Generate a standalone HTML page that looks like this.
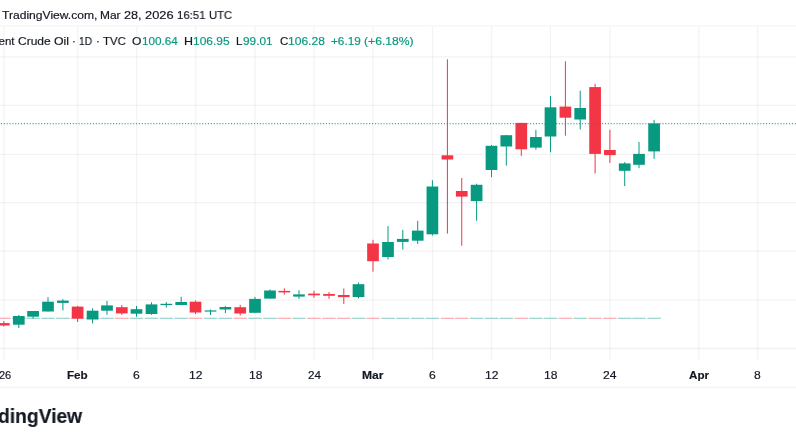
<!DOCTYPE html>
<html><head><meta charset="utf-8"><style>
html,body{margin:0;padding:0;background:#fff;}
body{width:796px;height:445px;overflow:hidden;position:relative;font-family:"Liberation Sans",sans-serif;color:#131722;}
svg{position:absolute;left:0;top:0;}
.tk{position:absolute;white-space:pre;transform-origin:0 0;will-change:transform;-webkit-text-stroke:0.18px currentColor;}
</style></head><body>
<svg width="796" height="445" viewBox="0 0 796 445">
<line x1="0" y1="56.94" x2="796" y2="56.94" stroke="#000" stroke-opacity="0.048" stroke-width="1.3"/>
<line x1="0" y1="105.39" x2="796" y2="105.39" stroke="#000" stroke-opacity="0.048" stroke-width="1.3"/>
<line x1="0" y1="154.39" x2="796" y2="154.39" stroke="#000" stroke-opacity="0.048" stroke-width="1.3"/>
<line x1="0" y1="202.64" x2="796" y2="202.64" stroke="#000" stroke-opacity="0.048" stroke-width="1.3"/>
<line x1="0" y1="251.11" x2="796" y2="251.11" stroke="#000" stroke-opacity="0.048" stroke-width="1.3"/>
<line x1="0" y1="300.12" x2="796" y2="300.12" stroke="#000" stroke-opacity="0.048" stroke-width="1.3"/>
<line x1="0" y1="348.50" x2="796" y2="348.50" stroke="#000" stroke-opacity="0.048" stroke-width="1.3"/>
<line x1="0" y1="25.85" x2="796" y2="25.85" stroke="#000" stroke-opacity="0.04" stroke-width="1.3"/>
<line x1="4.00" y1="26.5" x2="4.00" y2="360.4" stroke="#000" stroke-opacity="0.048" stroke-width="1.3"/>
<line x1="77.77" y1="26.5" x2="77.77" y2="360.4" stroke="#000" stroke-opacity="0.048" stroke-width="1.3"/>
<line x1="136.68" y1="26.5" x2="136.68" y2="360.4" stroke="#000" stroke-opacity="0.048" stroke-width="1.3"/>
<line x1="195.71" y1="26.5" x2="195.71" y2="360.4" stroke="#000" stroke-opacity="0.048" stroke-width="1.3"/>
<line x1="255.06" y1="26.5" x2="255.06" y2="360.4" stroke="#000" stroke-opacity="0.048" stroke-width="1.3"/>
<line x1="313.99" y1="26.5" x2="313.99" y2="360.4" stroke="#000" stroke-opacity="0.048" stroke-width="1.3"/>
<line x1="373.06" y1="26.5" x2="373.06" y2="360.4" stroke="#000" stroke-opacity="0.048" stroke-width="1.3"/>
<line x1="432.50" y1="26.5" x2="432.50" y2="360.4" stroke="#000" stroke-opacity="0.048" stroke-width="1.3"/>
<line x1="491.59" y1="26.5" x2="491.59" y2="360.4" stroke="#000" stroke-opacity="0.048" stroke-width="1.3"/>
<line x1="550.40" y1="26.5" x2="550.40" y2="360.4" stroke="#000" stroke-opacity="0.048" stroke-width="1.3"/>
<line x1="609.97" y1="26.5" x2="609.97" y2="360.4" stroke="#000" stroke-opacity="0.048" stroke-width="1.3"/>
<line x1="698.78" y1="26.5" x2="698.78" y2="360.4" stroke="#000" stroke-opacity="0.048" stroke-width="1.3"/>
<line x1="757.70" y1="26.5" x2="757.70" y2="360.4" stroke="#000" stroke-opacity="0.048" stroke-width="1.3"/>
<line x1="0" y1="387.5" x2="796" y2="387.5" stroke="#000" stroke-opacity="0.04" stroke-width="1.3"/>
<rect x="-2.95" y="317.70" width="13.50" height="1.2" fill="#F23645" fill-opacity="0.42"/>
<rect x="12.05" y="317.70" width="13.50" height="1.2" fill="#089981" fill-opacity="0.42"/>
<rect x="26.35" y="317.70" width="13.50" height="1.2" fill="#089981" fill-opacity="0.42"/>
<rect x="41.25" y="317.70" width="13.50" height="1.2" fill="#089981" fill-opacity="0.42"/>
<rect x="56.15" y="317.70" width="13.50" height="1.2" fill="#089981" fill-opacity="0.42"/>
<rect x="70.85" y="317.70" width="13.50" height="1.2" fill="#F23645" fill-opacity="0.42"/>
<rect x="85.85" y="317.70" width="13.50" height="1.2" fill="#089981" fill-opacity="0.42"/>
<rect x="100.25" y="317.70" width="13.50" height="1.2" fill="#089981" fill-opacity="0.42"/>
<rect x="115.05" y="317.70" width="13.50" height="1.2" fill="#F23645" fill-opacity="0.42"/>
<rect x="129.75" y="317.70" width="13.50" height="1.2" fill="#089981" fill-opacity="0.42"/>
<rect x="144.75" y="317.70" width="13.50" height="1.2" fill="#089981" fill-opacity="0.42"/>
<rect x="159.55" y="317.70" width="13.50" height="1.2" fill="#089981" fill-opacity="0.42"/>
<rect x="174.45" y="317.70" width="13.50" height="1.2" fill="#089981" fill-opacity="0.42"/>
<rect x="188.75" y="317.70" width="13.50" height="1.2" fill="#F23645" fill-opacity="0.42"/>
<rect x="203.75" y="317.70" width="13.50" height="1.2" fill="#089981" fill-opacity="0.42"/>
<rect x="218.65" y="317.70" width="13.50" height="1.2" fill="#089981" fill-opacity="0.42"/>
<rect x="233.45" y="317.70" width="13.50" height="1.2" fill="#F23645" fill-opacity="0.42"/>
<rect x="248.25" y="317.70" width="13.50" height="1.2" fill="#089981" fill-opacity="0.42"/>
<rect x="263.25" y="317.70" width="13.50" height="1.2" fill="#089981" fill-opacity="0.42"/>
<rect x="277.55" y="317.70" width="13.50" height="1.2" fill="#F23645" fill-opacity="0.42"/>
<rect x="292.25" y="317.70" width="13.50" height="1.2" fill="#089981" fill-opacity="0.42"/>
<rect x="307.25" y="317.70" width="13.50" height="1.2" fill="#F23645" fill-opacity="0.42"/>
<rect x="322.25" y="317.70" width="13.50" height="1.2" fill="#F23645" fill-opacity="0.42"/>
<rect x="337.05" y="317.70" width="13.50" height="1.2" fill="#F23645" fill-opacity="0.42"/>
<rect x="351.75" y="317.70" width="13.50" height="1.2" fill="#089981" fill-opacity="0.42"/>
<rect x="366.25" y="317.70" width="13.50" height="1.2" fill="#F23645" fill-opacity="0.42"/>
<rect x="381.25" y="317.70" width="13.50" height="1.2" fill="#089981" fill-opacity="0.42"/>
<rect x="396.05" y="317.70" width="13.50" height="1.2" fill="#089981" fill-opacity="0.42"/>
<rect x="410.95" y="317.70" width="13.50" height="1.2" fill="#089981" fill-opacity="0.42"/>
<rect x="425.65" y="317.70" width="13.50" height="1.2" fill="#089981" fill-opacity="0.42"/>
<rect x="440.65" y="317.70" width="13.50" height="1.2" fill="#F23645" fill-opacity="0.42"/>
<rect x="455.00" y="317.70" width="13.50" height="1.2" fill="#F23645" fill-opacity="0.42"/>
<rect x="469.85" y="317.70" width="13.50" height="1.2" fill="#089981" fill-opacity="0.42"/>
<rect x="484.75" y="317.70" width="13.50" height="1.2" fill="#089981" fill-opacity="0.42"/>
<rect x="499.55" y="317.70" width="13.50" height="1.2" fill="#089981" fill-opacity="0.42"/>
<rect x="514.55" y="317.70" width="13.50" height="1.2" fill="#F23645" fill-opacity="0.42"/>
<rect x="529.15" y="317.70" width="13.50" height="1.2" fill="#089981" fill-opacity="0.42"/>
<rect x="543.75" y="317.70" width="13.50" height="1.2" fill="#089981" fill-opacity="0.42"/>
<rect x="558.65" y="317.70" width="13.50" height="1.2" fill="#F23645" fill-opacity="0.42"/>
<rect x="573.45" y="317.70" width="13.50" height="1.2" fill="#089981" fill-opacity="0.42"/>
<rect x="588.35" y="317.70" width="13.50" height="1.2" fill="#F23645" fill-opacity="0.42"/>
<rect x="603.15" y="317.70" width="13.50" height="1.2" fill="#F23645" fill-opacity="0.42"/>
<rect x="617.95" y="317.70" width="13.50" height="1.2" fill="#089981" fill-opacity="0.42"/>
<rect x="632.25" y="317.70" width="13.50" height="1.2" fill="#089981" fill-opacity="0.42"/>
<rect x="647.35" y="317.70" width="13.50" height="1.2" fill="#089981" fill-opacity="0.42"/>
<rect x="3.30" y="321.00" width="1" height="5.50" fill="#F23645"/>
<rect x="-2.05" y="323.10" width="11.70" height="2.40" fill="#F23645"/>
<rect x="18.30" y="315.00" width="1" height="13.00" fill="#089981"/>
<rect x="12.95" y="316.00" width="11.70" height="8.70" fill="#089981"/>
<rect x="32.60" y="311.00" width="1" height="7.60" fill="#089981"/>
<rect x="27.25" y="311.00" width="11.70" height="5.70" fill="#089981"/>
<rect x="47.50" y="297.10" width="1" height="14.40" fill="#089981"/>
<rect x="42.15" y="301.70" width="11.70" height="9.80" fill="#089981"/>
<rect x="62.40" y="299.10" width="1" height="11.30" fill="#089981"/>
<rect x="57.05" y="300.60" width="11.70" height="2.30" fill="#089981"/>
<rect x="77.10" y="305.90" width="1" height="16.10" fill="#F23645"/>
<rect x="71.75" y="306.60" width="11.70" height="12.00" fill="#F23645"/>
<rect x="92.10" y="308.20" width="1" height="15.30" fill="#089981"/>
<rect x="86.75" y="310.70" width="11.70" height="8.80" fill="#089981"/>
<rect x="106.50" y="300.90" width="1" height="13.90" fill="#089981"/>
<rect x="101.15" y="305.40" width="11.70" height="5.30" fill="#089981"/>
<rect x="121.30" y="305.00" width="1" height="9.90" fill="#F23645"/>
<rect x="115.95" y="307.20" width="11.70" height="6.20" fill="#F23645"/>
<rect x="136.00" y="305.90" width="1" height="10.80" fill="#089981"/>
<rect x="130.65" y="309.20" width="11.70" height="4.50" fill="#089981"/>
<rect x="151.00" y="302.30" width="1" height="12.50" fill="#089981"/>
<rect x="145.65" y="304.40" width="11.70" height="9.60" fill="#089981"/>
<rect x="165.80" y="302.10" width="1" height="5.60" fill="#089981"/>
<rect x="160.45" y="303.80" width="11.70" height="1.30" fill="#089981"/>
<rect x="180.70" y="296.80" width="1" height="8.20" fill="#089981"/>
<rect x="175.35" y="302.00" width="11.70" height="3.00" fill="#089981"/>
<rect x="195.00" y="300.60" width="1" height="13.40" fill="#F23645"/>
<rect x="189.65" y="301.70" width="11.70" height="10.80" fill="#F23645"/>
<rect x="210.00" y="309.50" width="1" height="5.50" fill="#089981"/>
<rect x="204.65" y="310.40" width="11.70" height="1.20" fill="#089981"/>
<rect x="224.90" y="306.10" width="1" height="7.00" fill="#089981"/>
<rect x="219.55" y="307.00" width="11.70" height="2.50" fill="#089981"/>
<rect x="239.70" y="304.80" width="1" height="10.70" fill="#F23645"/>
<rect x="234.35" y="307.20" width="11.70" height="6.30" fill="#F23645"/>
<rect x="254.50" y="296.90" width="1" height="15.90" fill="#089981"/>
<rect x="249.15" y="298.90" width="11.70" height="13.90" fill="#089981"/>
<rect x="269.50" y="289.50" width="1" height="9.10" fill="#089981"/>
<rect x="264.15" y="290.50" width="11.70" height="8.10" fill="#089981"/>
<rect x="283.80" y="288.30" width="1" height="6.40" fill="#F23645"/>
<rect x="278.45" y="290.90" width="11.70" height="1.50" fill="#F23645"/>
<rect x="298.50" y="290.20" width="1" height="8.70" fill="#089981"/>
<rect x="293.15" y="294.40" width="11.70" height="2.20" fill="#089981"/>
<rect x="313.50" y="290.70" width="1" height="7.10" fill="#F23645"/>
<rect x="308.15" y="293.60" width="11.70" height="1.70" fill="#F23645"/>
<rect x="328.50" y="292.00" width="1" height="6.80" fill="#F23645"/>
<rect x="323.15" y="294.00" width="11.70" height="1.80" fill="#F23645"/>
<rect x="343.30" y="288.50" width="1" height="15.40" fill="#F23645"/>
<rect x="337.95" y="295.00" width="11.70" height="2.10" fill="#F23645"/>
<rect x="358.00" y="282.60" width="1" height="15.70" fill="#089981"/>
<rect x="352.65" y="284.20" width="11.70" height="12.80" fill="#089981"/>
<rect x="372.50" y="239.80" width="1" height="31.90" fill="#F23645"/>
<rect x="367.15" y="243.50" width="11.70" height="17.70" fill="#F23645"/>
<rect x="387.50" y="226.20" width="1" height="33.20" fill="#089981"/>
<rect x="382.15" y="242.00" width="11.70" height="15.00" fill="#089981"/>
<rect x="402.30" y="229.80" width="1" height="19.80" fill="#089981"/>
<rect x="396.95" y="238.90" width="11.70" height="3.00" fill="#089981"/>
<rect x="417.20" y="220.80" width="1" height="23.20" fill="#089981"/>
<rect x="411.85" y="230.60" width="11.70" height="10.10" fill="#089981"/>
<rect x="431.90" y="180.20" width="1" height="55.40" fill="#089981"/>
<rect x="426.55" y="186.50" width="11.70" height="47.80" fill="#089981"/>
<rect x="446.90" y="59.30" width="1" height="174.30" fill="#F23645"/>
<rect x="441.55" y="155.30" width="11.70" height="4.20" fill="#F23645"/>
<rect x="461.25" y="178.00" width="1" height="67.70" fill="#F23645"/>
<rect x="455.90" y="191.00" width="11.70" height="5.60" fill="#F23645"/>
<rect x="476.10" y="183.70" width="1" height="37.10" fill="#089981"/>
<rect x="470.75" y="184.80" width="11.70" height="16.30" fill="#089981"/>
<rect x="491.00" y="145.00" width="1" height="32.20" fill="#089981"/>
<rect x="485.65" y="145.80" width="11.70" height="24.20" fill="#089981"/>
<rect x="505.80" y="135.00" width="1" height="30.60" fill="#089981"/>
<rect x="500.45" y="135.20" width="11.70" height="11.30" fill="#089981"/>
<rect x="520.80" y="122.90" width="1" height="33.00" fill="#F23645"/>
<rect x="515.45" y="122.90" width="11.70" height="26.40" fill="#F23645"/>
<rect x="535.40" y="129.90" width="1" height="19.80" fill="#089981"/>
<rect x="530.05" y="137.00" width="11.70" height="10.60" fill="#089981"/>
<rect x="550.00" y="96.00" width="1" height="56.30" fill="#089981"/>
<rect x="544.65" y="107.30" width="11.70" height="29.20" fill="#089981"/>
<rect x="564.90" y="61.30" width="1" height="74.40" fill="#F23645"/>
<rect x="559.55" y="106.60" width="11.70" height="11.10" fill="#F23645"/>
<rect x="579.70" y="90.70" width="1" height="38.70" fill="#089981"/>
<rect x="574.35" y="108.00" width="11.70" height="11.50" fill="#089981"/>
<rect x="594.60" y="83.80" width="1" height="89.70" fill="#F23645"/>
<rect x="589.25" y="87.10" width="11.70" height="66.80" fill="#F23645"/>
<rect x="609.40" y="129.80" width="1" height="33.20" fill="#F23645"/>
<rect x="604.05" y="150.00" width="11.70" height="5.10" fill="#F23645"/>
<rect x="624.20" y="162.20" width="1" height="23.80" fill="#089981"/>
<rect x="618.85" y="163.40" width="11.70" height="7.40" fill="#089981"/>
<rect x="638.50" y="141.90" width="1" height="26.30" fill="#089981"/>
<rect x="633.15" y="153.90" width="11.70" height="10.90" fill="#089981"/>
<rect x="653.60" y="119.80" width="1" height="39.10" fill="#089981"/>
<rect x="648.25" y="123.40" width="11.70" height="28.00" fill="#089981"/>
<line x1="0.86" y1="123.6" x2="796" y2="123.6" stroke="#089981" stroke-width="1.05" stroke-opacity="0.8" stroke-dasharray="1.1 1.7767"/>
</svg>
<span class="tk" style="left:1.74px;top:7.92px;font-size:11.5px;line-height:14px;transform:scaleX(1.0514);">TradingView.com,</span>
<span class="tk" style="left:100.32px;top:7.92px;font-size:11.5px;line-height:14px;transform:scaleX(1.0368);">Mar</span>
<span class="tk" style="left:124.35px;top:7.92px;font-size:11.5px;line-height:14px;transform:scaleX(1.1034);">28,</span>
<span class="tk" style="left:144.94px;top:7.92px;font-size:11.5px;line-height:14px;transform:scaleX(1.1152);">2026</span>
<span class="tk" style="left:176.86px;top:7.92px;font-size:11.5px;line-height:14px;transform:scaleX(0.9855);">16:51</span>
<span class="tk" style="left:208.97px;top:7.92px;font-size:11.5px;line-height:14px;transform:scaleX(0.9778);">UTC</span>
<span class="tk" style="left:-12.60px;top:33.72px;font-size:11.5px;line-height:14px;">Brent</span>
<span class="tk" style="left:18.38px;top:33.72px;font-size:11.5px;line-height:14px;transform:scaleX(1.0426);">Crude</span>
<span class="tk" style="left:54.37px;top:33.72px;font-size:11.5px;line-height:14px;transform:scaleX(1.0692);">Oil</span>
<span class="tk" style="left:72.12px;top:33.72px;font-size:11.5px;line-height:14px;">·</span>
<span class="tk" style="left:79.44px;top:33.72px;font-size:11.5px;line-height:14px;transform:scaleX(0.8815);">1D</span>
<span class="tk" style="left:95.53px;top:33.72px;font-size:11.5px;line-height:14px;">·</span>
<span class="tk" style="left:103.05px;top:33.72px;font-size:11.5px;line-height:14px;transform:scaleX(0.9888);">TVC</span>
<span class="tk" style="left:132.07px;top:33.72px;font-size:11.5px;line-height:14px;transform:scaleX(1.0500);">O</span>
<span class="tk" style="left:141.74px;top:33.72px;font-size:11.5px;line-height:14px;color:#089981;transform:scaleX(1.0190);">100.64</span>
<span class="tk" style="left:184.39px;top:33.72px;font-size:11.5px;line-height:14px;transform:scaleX(1.0815);">H</span>
<span class="tk" style="left:193.22px;top:33.72px;font-size:11.5px;line-height:14px;color:#089981;transform:scaleX(1.0412);">106.95</span>
<span class="tk" style="left:236.15px;top:33.72px;font-size:11.5px;line-height:14px;">L</span>
<span class="tk" style="left:243.09px;top:33.72px;font-size:11.5px;line-height:14px;color:#089981;transform:scaleX(1.0270);">99.01</span>
<span class="tk" style="left:279.50px;top:33.72px;font-size:11.5px;line-height:14px;">C</span>
<span class="tk" style="left:287.61px;top:33.72px;font-size:11.5px;line-height:14px;color:#089981;transform:scaleX(1.0471);">106.28</span>
<span class="tk" style="left:331.09px;top:33.72px;font-size:11.5px;line-height:14px;color:#089981;transform:scaleX(1.0230);">+6.19</span>
<span class="tk" style="left:363.81px;top:33.72px;font-size:11.5px;line-height:14px;color:#089981;transform:scaleX(1.0571);">(+6.18%)</span>
<span class="tk" style="left:-1.15px;top:367.79px;font-size:11px;line-height:14px;">26</span>
<span class="tk" style="left:67.06px;top:367.79px;font-size:11px;line-height:14px;font-weight:700;transform:scaleX(1.0595);">Feb</span>
<span class="tk" style="left:133.21px;top:367.79px;font-size:11px;line-height:14px;transform:scaleX(1.1000);">6</span>
<span class="tk" style="left:189.48px;top:367.79px;font-size:11px;line-height:14px;transform:scaleX(1.1000);">12</span>
<span class="tk" style="left:248.72px;top:367.79px;font-size:11px;line-height:14px;transform:scaleX(1.1000);">18</span>
<span class="tk" style="left:307.52px;top:367.79px;font-size:11px;line-height:14px;transform:scaleX(1.0609);">24</span>
<span class="tk" style="left:362.31px;top:367.79px;font-size:11px;line-height:14px;font-weight:700;transform:scaleX(1.1000);">Mar</span>
<span class="tk" style="left:429.11px;top:367.79px;font-size:11px;line-height:14px;transform:scaleX(1.1000);">6</span>
<span class="tk" style="left:484.73px;top:367.79px;font-size:11px;line-height:14px;transform:scaleX(1.1000);">12</span>
<span class="tk" style="left:544.08px;top:367.79px;font-size:11px;line-height:14px;transform:scaleX(1.1000);">18</span>
<span class="tk" style="left:603.27px;top:367.79px;font-size:11px;line-height:14px;transform:scaleX(1.1000);">24</span>
<span class="tk" style="left:688.59px;top:367.79px;font-size:11px;line-height:14px;font-weight:700;transform:scaleX(1.0560);">Apr</span>
<span class="tk" style="left:754.31px;top:367.79px;font-size:11px;line-height:14px;transform:scaleX(1.1000);">8</span>
<span class="tk" style="left:-1.72px;top:403.87px;font-size:20px;line-height:25px;font-weight:700;transform:scaleX(0.9625);">dingView</span>
</body></html>
